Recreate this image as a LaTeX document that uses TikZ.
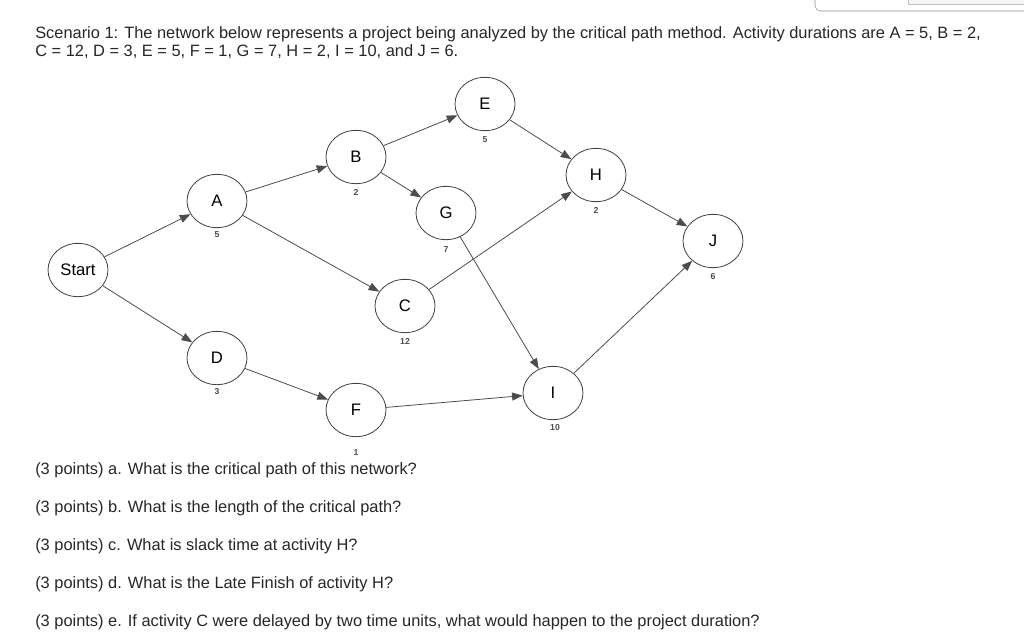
\documentclass[tikz,border=0pt]{standalone}
\usepackage{fontspec}
\setmainfont{Liberation Sans}
\usetikzlibrary{shapes.geometric,arrows.meta}
\begin{document}
\begin{tikzpicture}[x=0.75pt,y=-0.75pt,
  act/.style={ellipse,draw=black!75,line width=0.6pt,minimum width=45pt,minimum height=40pt,inner sep=0pt,font=\fontsize{12.5}{14}\selectfont},
  dur/.style={font=\fontsize{6.5}{8}\selectfont\bfseries,text=black!70},
  con/.style={draw=black!70,line width=0.6pt,-{Triangle[length=8pt,width=6pt]}},
  txt/.style={anchor=west,inner sep=0pt,font=\fontsize{12.3}{14}\selectfont,text=black!85}]
\useasboundingbox (0,0) rectangle (1024,643);
\draw[black!45,rounded corners=4pt] (815,-10) -- (815,11) -- (1030,11);
\draw[black!25,fill=black!4] (908,-5) rectangle (1030,4);
\node[txt] (t1) at (35,34) {Scenario 1: The network below represents a project being analyzed by the critical path method. Activity durations are A = 5, B = 2,};
\node[txt] (t2) at (35,52) {C = 12, D = 3, E = 5, F = 1, G = 7, H = 2, I = 10, and J = 6.};
\node[act] (S) at (78,270) {Start};
\node[act] (A) at (217,201) {A};
\node[act] (B) at (356,157) {B};
\node[act] (E) at (485,104) {E};
\node[act] (G) at (446,213) {G};
\node[act] (C) at (405,306) {C};
\node[act] (D) at (217,358) {D};
\node[act] (F) at (356,410) {F};
\node[act] (I) at (553,393) {I};
\node[act] (H) at (596,175) {H};
\node[act] (J) at (713,241) {J};
\node[dur] (dA) at (217,235) {5};
\node[dur] (dB) at (356,192) {2};
\node[dur] (dE) at (485,140) {5};
\node[dur] (dG) at (446,250) {7};
\node[dur] (dC) at (405,341) {12};
\node[dur] (dD) at (217,392) {3};
\node[dur] (dF) at (356,453) {1};
\node[dur] (dI) at (555,428) {10};
\node[dur] (dH) at (596,210) {2};
\node[dur] (dJ) at (713,277) {6};
\draw[con] (S) -- (A);
\draw[con] (S) -- (D);
\draw[con] (A) -- (B);
\draw[con] (A) -- (C);
\draw[con] (B) -- (E);
\draw[con] (B) -- (G);
\draw[con] (E) -- (H);
\draw[con] (C) -- (H);
\draw[con] (G) -- (I);
\draw[con] (D) -- (F);
\draw[con] (F) -- (I);
\draw[con] (H) -- (J);
\draw[con] (I) -- (J);
\node[txt] (q1) at (35,470) {(3 points) a. What is the critical path of this network?};
\node[txt] (q2) at (35,508) {(3 points) b. What is the length of the critical path?};
\node[txt] (q3) at (35,546) {(3 points) c. What is slack time at activity H?};
\node[txt] (q4) at (35,584) {(3 points) d. What is the Late Finish of activity H?};
\node[txt] (q5) at (35,622) {(3 points) e. If activity C were delayed by two time units, what would happen to the project duration?};
\end{tikzpicture}
\end{document}
